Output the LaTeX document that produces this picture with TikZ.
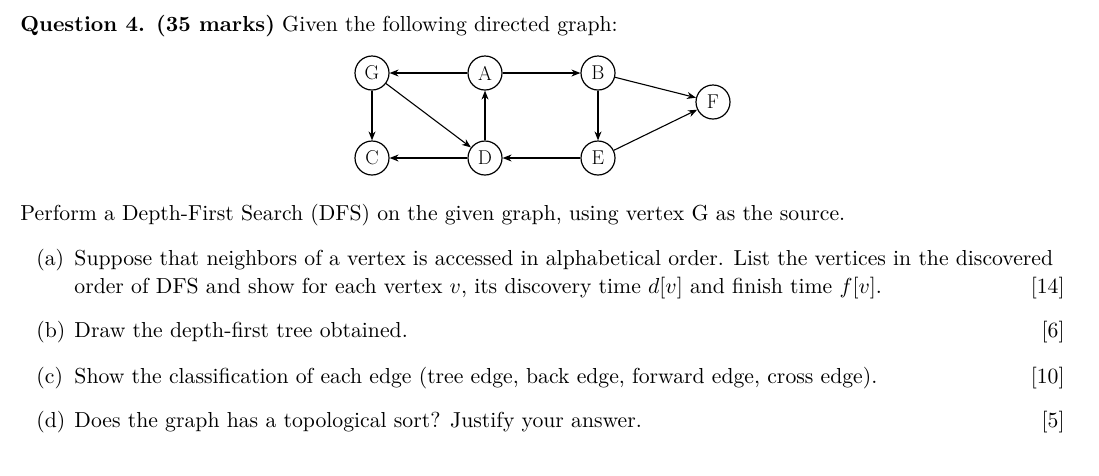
\documentclass[tikz,border=0pt]{standalone}
\usetikzlibrary{arrows.meta}
\begin{document}
\begin{tikzpicture}[x=1pt,y=-1pt,
  v/.style={circle,draw,line width=1.2pt,minimum size=34pt,inner sep=0pt,font=\fontsize{20}{24}\selectfont},
  e/.style={-{Stealth[length=9pt,width=7pt]},line width=1.1pt},
  t/.style={anchor=base west,inner sep=0pt,font=\fontsize{10}{12}\selectfont,scale=2.17},
  r/.style={anchor=base east,inner sep=0pt,font=\fontsize{10}{12}\selectfont,scale=2.17}]
\useasboundingbox (0,0) rectangle (1099,475);
\node[v] (G) at (372,73) {G};
\node[v] (A) at (485,73) {A};
\node[v] (B) at (598,73) {B};
\node[v] (F) at (713,102) {F};
\node[v] (C) at (372,158) {C};
\node[v] (D) at (485,158) {D};
\node[v] (E) at (598,158) {E};
\draw[e] (A)--(G); \draw[e] (A)--(B); \draw[e] (B)--(F); \draw[e] (B)--(E);
\draw[e] (E)--(F); \draw[e] (E)--(D); \draw[e] (D)--(C); \draw[e] (D)--(A);
\draw[e] (G)--(D); \draw[e] (G)--(C);
\node[t] (q) at (20,31) {\textbf{Question 4. (35 marks)} Given the following directed graph:};
\node[t] (p) at (20,220) {Perform a Depth-First Search (DFS) on the given graph, using vertex G as the source.};
\node[t] (la) at (36,265) {(a)};
\node[t] (a1) at (74,265) {Suppose that neighbors of a vertex is accessed in alphabetical order. List the vertices in the discovered};
\node[t] (a2) at (74,293) {order of DFS and show for each vertex $v$, its discovery time $d[v]$ and finish time $f[v]$.};
\node[r] (ma) at (1065,293) {[14]};
\node[t] (lb) at (36,337) {(b)};
\node[t] (b1) at (74,337) {Draw the depth-first tree obtained.};
\node[r] (mb) at (1065,337) {[6]};
\node[t] (lc) at (36,383) {(c)};
\node[t] (c1) at (74,383) {Show the classification of each edge (tree edge, back edge, forward edge, cross edge).};
\node[r] (mc) at (1065,383) {[10]};
\node[t] (ld) at (36,427) {(d)};
\node[t] (d1) at (74,427) {Does the graph has a topological sort? Justify your answer.};
\node[r] (md) at (1065,427) {[5]};
\end{tikzpicture}
\end{document}
